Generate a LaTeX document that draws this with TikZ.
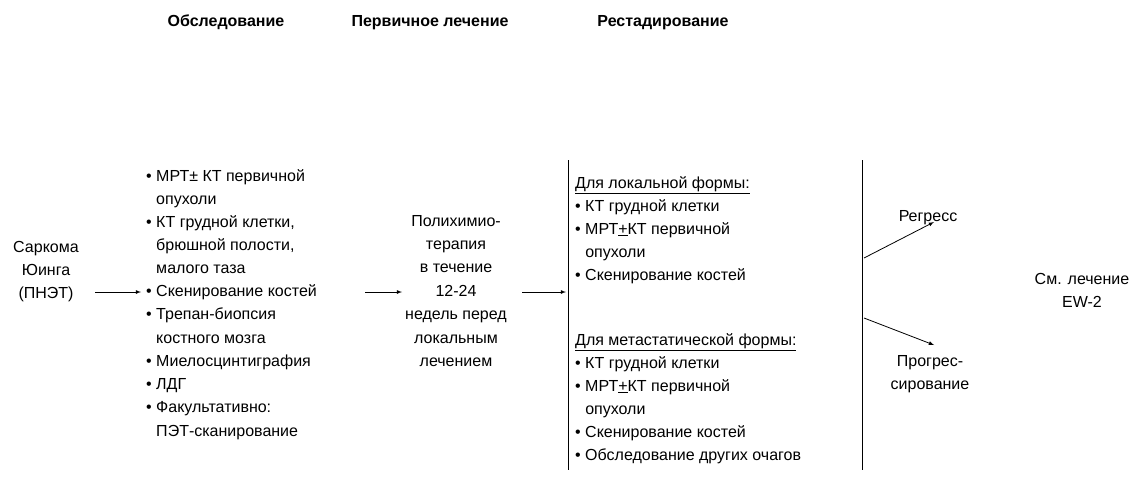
\documentclass[tikz,border=0pt]{standalone}
\usepackage{fontspec}
\setmainfont{Liberation Sans}
\begin{document}
\begin{tikzpicture}[x=1pt,y=-1pt,
  t/.style={anchor=base west,inner sep=0pt,font=\fontsize{16}{18}\selectfont},
  c/.style={anchor=base,inner sep=0pt,font=\fontsize{16}{18}\selectfont},
  h/.style={anchor=base,inner sep=0pt,font=\fontsize{16}{18}\selectfont\bfseries},
  arr/.style={-latex,line width=0.8pt}]
\useasboundingbox (0,0) rectangle (1139,480);
\node[h] (h1) at (226,26) {Обследование};
\node[h] (h2) at (430,26) {Первичное лечение};
\node[h] (h3) at (663,26) {Рестадирование};
% left
\node[c] (s1) at (46,252) {Саркома};
\node[c] (s2) at (46,275) {Юинга};
\node[c] (s3) at (46,298) {(ПНЭТ)};
\coordinate (a1s) at (95,292); \coordinate (a1e) at (141,292);
\draw[arr] (a1s) -- (a1e);
% list
\foreach \y/\txt/\n in {181/{• МРТ± КТ первичной}/l1, 204/{\phantom{• }опухоли}/l2, 227/{• КТ грудной клетки,}/l3, 250/{\phantom{• }брюшной полости,}/l4, 273/{\phantom{• }малого таза}/l5, 296/{• Скенирование костей}/l6, 319/{\phantom{• }Трепан-биопсия}/l7, 343/{\phantom{• }костного мозга}/l8, 366/{• Миелосцинтиграфия}/l9, 389/{• ЛДГ}/l10, 412/{• Факультативно:}/l11, 436/{\phantom{• }ПЭТ-сканирование}/l12}
  \node[t] (\n) at (146,\y) {\txt};
\node[t] at (146,319) {•};
\coordinate (a2s) at (365,292); \coordinate (a2e) at (402,292);
\draw[arr] (a2s) -- (a2e);
% middle
\foreach \y/\txt/\n in {226/Полихимио-/m1, 249/терапия/m2, 272/в течение/m3, 296/12-24/m4, 319/недель перед/m5, 343/локальным/m6, 366/лечением/m7}
  \node[c] (\n) at (456,\y) {\txt};
\coordinate (a3s) at (522,292); \coordinate (a3e) at (566,292);
\draw[arr] (a3s) -- (a3e);
% vertical lines
\coordinate (v1t) at (568,160); \coordinate (v1b) at (568,470);
\coordinate (v2t) at (862,160); \coordinate (v2b) at (862,470);
\draw[line width=0.8pt] (v1t) -- (v1b);
\draw[line width=0.8pt] (v2t) -- (v2b);
% right list
\node[t] (r0) at (575,188) {\underline{Для локальной формы:}};
\node[t] (r1) at (575,211) {• КТ грудной клетки};
\node[t] (r2) at (575,234) {• МРТ\underline{+}КТ первичной};
\node[t] (r3) at (575,257) {\phantom{• }опухоли};
\node[t] (r4) at (575,280) {• Скенирование костей};
\node[t] (r5) at (575,345) {\underline{Для метастатической формы:}};
\node[t] (r6) at (575,368) {• КТ грудной клетки};
\node[t] (r7) at (575,391) {• МРТ\underline{+}КТ первичной};
\node[t] (r8) at (575,414) {\phantom{• }опухоли};
\node[t] (r9) at (575,437) {• Скенирование костей};
\node[t] (r10) at (575,460) {• Обследование других очагов};
% outcomes
\coordinate (o1s) at (864,258); \coordinate (o1e) at (934,222);
\coordinate (o2s) at (864,318); \coordinate (o2e) at (934,345);
\draw[arr] (o1s) -- (o1e);
\draw[arr] (o2s) -- (o2e);
\node[c] (g1) at (928,221) {Регресс};
\node[c] (p1) at (930,366) {Прогрес-};
\node[c] (p2) at (930,389) {сирование};
\node[c] (e1) at (1082,284) {См. лечение};
\node[c] (e2) at (1082,307) {EW-2};
\end{tikzpicture}
\end{document}
